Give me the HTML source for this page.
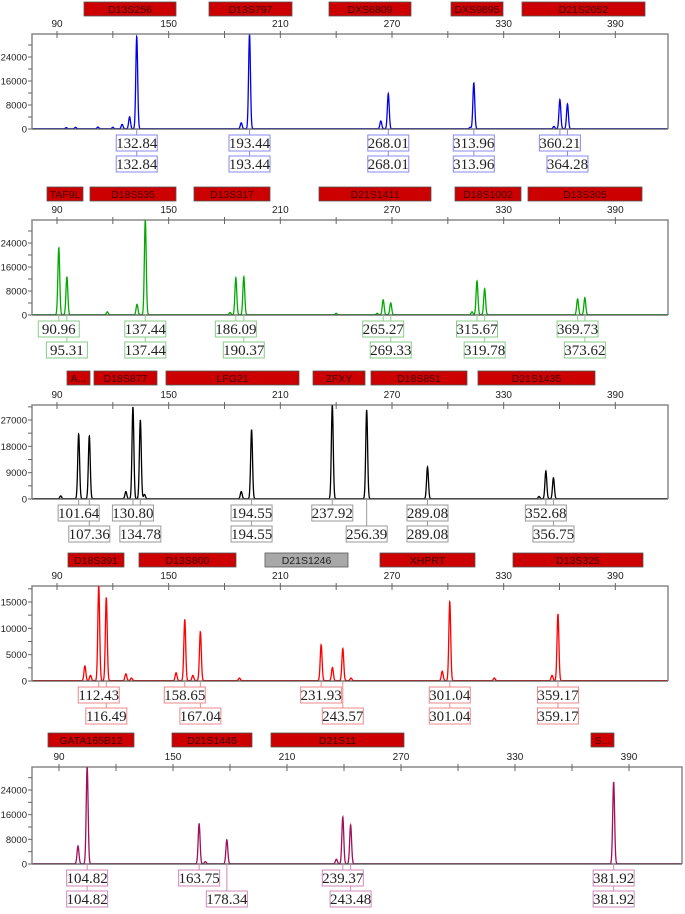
<!DOCTYPE html>
<html><head><meta charset="utf-8"><style>
html,body{margin:0;padding:0;background:#fff;}
svg{display:block;}
text{font-family:"Liberation Sans",sans-serif;}
.lbl{font-family:"Liberation Serif",serif;font-size:15px;}
</style></head><body>
<svg id="chart" width="685" height="914" viewBox="0 0 685 914" xmlns="http://www.w3.org/2000/svg"></svg>
<script>
// ---- Panel data ----
const p1Markers = [["D13S256",84,176],["D13S797",209,292],["DXS6809",329,411],["DXS9895",451,503],["D21S2052",522,645]];
const p1Sizes   = [95,100,112,120,125,129,132.84,189,193.44,264,268.01,312,313.96,357,360.21,364.28];
const p1Heights = [400,500,600,500,1500,4000,30800,2000,31500,2600,11700,500,15300,800,9700,8300];
const p1Labels  = [["132.84","132.84"],["193.44","193.44"],["268.01","268.01"],["313.96","313.96"],["360.21","364.28"]];
const p1Ticks   = [0,8000,16000,24000];

const p2Markers = [["TAF9L",47,83],["D18S535",90,176],["D13S317",194,270],["D21S1411",319,431],["D18S1002",455,521],["D13S305",528,642]];
const p2Sizes   = [90.96,95.31,117,133,137.44,183,186.09,190.37,240,262,265.27,269.33,313,315.67,319.78,369.73,373.62];
const p2Heights = [22300,12700,1000,3500,31600,800,12300,12700,500,500,5000,4000,1000,11300,8700,5300,5700];
const p2Labels  = [["90.96","95.31"],["137.44","137.44"],["186.09","190.37"],["265.27","269.33"],["315.67","319.78"],["369.73","373.62"]];
const p2Ticks   = [0,8000,16000,24000];

const p3Markers = [["A...",67,90],["D18S877",94,157],["LFG21",166,299],["ZFXY",313,365],["D18S851",371,467],["D21S1435",478,595]];
const p3Sizes   = [92,101.64,107.36,127,130.80,134.78,137,189,194.55,237.92,256.39,289.08,349,352.68,356.75];
const p3Heights = [1000,22200,21500,2500,31400,27000,1500,2500,23600,32000,30400,10900,800,9500,7200];
const p3Labels  = [["101.64","107.36"],["130.80","134.78"],["194.55","194.55"],["237.92","256.39"],["289.08","289.08"],["352.68","356.75"]];
const p3Ticks   = [0,9000,18000,27000];

const p4Markers = [["D18S391",68,124,1],["D13S800",139,236,1],["D21S1246",265,348,0],["XHPRT",380,475,1],["D13S325",513,643,1]];
const p4Sizes   = [105,108,112.43,116.49,127,130,154,158.65,163,167.04,188,231.93,238,243.57,248,297,301.04,325,356,359.17];
const p4Heights = [2800,1000,18000,15800,1300,500,1500,11600,1000,9300,500,6800,2500,6100,500,1800,15000,500,1000,12700];
const p4Labels  = [["112.43","116.49"],["158.65","167.04"],["231.93","243.57"],["301.04","301.04"],["359.17","359.17"]];
const p4Ticks   = [0,5000,10000,15000];

const p5Markers = [["GATA165B12",48,134],["D21S1446",172,252],["D21S11",271,404],["S...",591,614]];
const p5Sizes   = [100,104.82,163.75,167,178.34,236,239.37,243.48,381.92];
const p5Heights = [5800,31400,13000,700,7800,1500,15200,12600,26600];
const p5Labels  = [["104.82","104.82"],["163.75","178.34"],["239.37","243.48"],["381.92","381.92"]];
const p5Ticks   = [0,8000,16000,24000];

const xTickLabels = [90,150,210,270,330,390];

const svg = document.getElementById('chart');
const NS = 'http://www.w3.org/2000/svg';
function mk(tag, attrs, parent){
  const e = document.createElementNS(NS, tag);
  for (const k in attrs) e.setAttribute(k, attrs[k]);
  (parent||svg).appendChild(e);
  return e;
}

function panel(cfg){
  const g = mk('g', {});
  
  
  const xs = v => cfg.x0 + (v - 90) * cfg.k;
  const ys = v => cfg.base - v * cfg.ys;
  cfg.markers.forEach(m => {
    const gray = m[3] === 0;
    const r = mk('rect', {x:m[1], y:cfg.my, width:m[2]-m[1], height:14, fill: gray ? '#a8a8a8' : '#cc0000', stroke:'#555', 'stroke-width':0.8}, g);
    
    
    const t = mk('text', {x:(m[1]+m[2])/2, y:cfg.my+11, 'text-anchor':'middle', 'font-size':10.5, fill: gray ? '#222' : '#400'}, g);
    t.textContent = m[0];
    
    
  });
  const fr = mk('path', {d:`M32 ${cfg.base} V${cfg.top} H${cfg.right} V${cfg.base}`, fill:'none', stroke:'#888', 'stroke-width':1.5}, g);
  
  
  for (let v = 60; v <= 420; v += 30) {
    const x = xs(v);
    if (x < 33 || x > cfg.right - 1) continue;
    mk('line', {x1:x, x2:x, y1:cfg.top-3, y2:cfg.top+4, stroke:'#666', 'stroke-width':1}, g);
  }
  xTickLabels.forEach(v => {
    const t = mk('text', {x:xs(v), y:cfg.top-7, 'text-anchor':'middle', 'font-size':10, fill:'#222'}, g);
    t.textContent = v;
    
    
  });
  const step = cfg.ticks[1] - cfg.ticks[0];
  for (let v = 0; ys(v) >= cfg.top - 0.5; v += step/2) {
    const y = ys(v);
    mk('line', {x1:28, x2:32, y1:y, y2:y, stroke:'#666', 'stroke-width':1}, g);
  }
  cfg.ticks.forEach(v => {
    const t = mk('text', {x:27, y:ys(v)+3.5, 'text-anchor':'end', 'font-size':9.5, fill:'#222'}, g);
    t.textContent = v;
    
    
  });
  let d = '';
  const sig = 0.5;
  for (let v = 76; v <= 420; v += 0.1) {
    const x = xs(v);
    if (x < 33 || x > cfg.right - 1) continue;
    let h = 60;
    for (let i = 0; i < cfg.sizes.length; i++) {
      const dv = v - cfg.sizes[i];
      if (Math.abs(dv) < 4) h += cfg.heights[i] * Math.exp(-dv*dv/(2*sig*sig));
    }
    d += (d ? 'L' : 'M') + x.toFixed(2) + ' ' + Math.max(ys(h), cfg.top).toFixed(2);
  }
  const tr = mk('path', {d:d, fill:'none', stroke:cfg.color, 'stroke-width':1.3}, g);
  
  
  mk('line', {x1:32, x2:cfg.right, y1:cfg.base, y2:cfg.base, stroke:'#555', 'stroke-width':1.3}, g);
  const r1 = cfg.base + 6, r2 = cfg.base + 27, bh = 16;
  cfg.labels.forEach(p => {
    const xa = xs(parseFloat(p[0])), xb = xs(parseFloat(p[1]));
    mk('line', {x1:xa, x2:xa, y1:cfg.base, y2:r1, stroke:cfg.border, 'stroke-width':1}, g);
    mk('line', {x1:xb, x2:xb, y1:(xa===xb ? r1+bh : cfg.base), y2:r2, stroke:cfg.border, 'stroke-width':1}, g);
    [[p[0], xa, r1], [p[1], xb, r2]].forEach(q => {
      const b = mk('rect', {x:q[1]-20.5, y:q[2], width:41, height:bh, fill:'#fff', stroke:cfg.border, 'stroke-width':1}, g);
      
      
      const t = mk('text', {x:q[1], y:q[2]+13, 'text-anchor':'middle', class:'lbl', fill:'#222'}, g);
      t.textContent = q[0];
      
      
    });
  });
}

panel({name:'panel-blue', markers:p1Markers, sizes:p1Sizes, heights:p1Heights, labels:p1Labels, ticks:p1Ticks,
  my:2, top:34, base:129, ys:0.003, x0:57, k:1.8611, right:668, color:'#0000ee', border:'#8888ee'});
panel({name:'panel-green', markers:p2Markers, sizes:p2Sizes, heights:p2Heights, labels:p2Labels, ticks:p2Ticks,
  my:187, top:220, base:315, ys:0.003, x0:57, k:1.8611, right:668, color:'#00aa00', border:'#88cc88'});
panel({name:'panel-black', markers:p3Markers, sizes:p3Sizes, heights:p3Heights, labels:p3Labels, ticks:p3Ticks,
  my:371, top:405, base:499, ys:0.002926, x0:57, k:1.8611, right:668, color:'#000000', border:'#999999'});
panel({name:'panel-red', markers:p4Markers, sizes:p4Sizes, heights:p4Heights, labels:p4Labels, ticks:p4Ticks,
  my:553, top:586, base:681, ys:0.005267, x0:57, k:1.8611, right:668, color:'#ff0000', border:'#ee8888'});
panel({name:'panel-purple', markers:p5Markers, sizes:p5Sizes, heights:p5Heights, labels:p5Labels, ticks:p5Ticks,
  my:733, top:767, base:864, ys:0.003083, x0:59, k:1.9, right:682, color:'#a0105a', border:'#d088b8'});
</script>
</body></html>
